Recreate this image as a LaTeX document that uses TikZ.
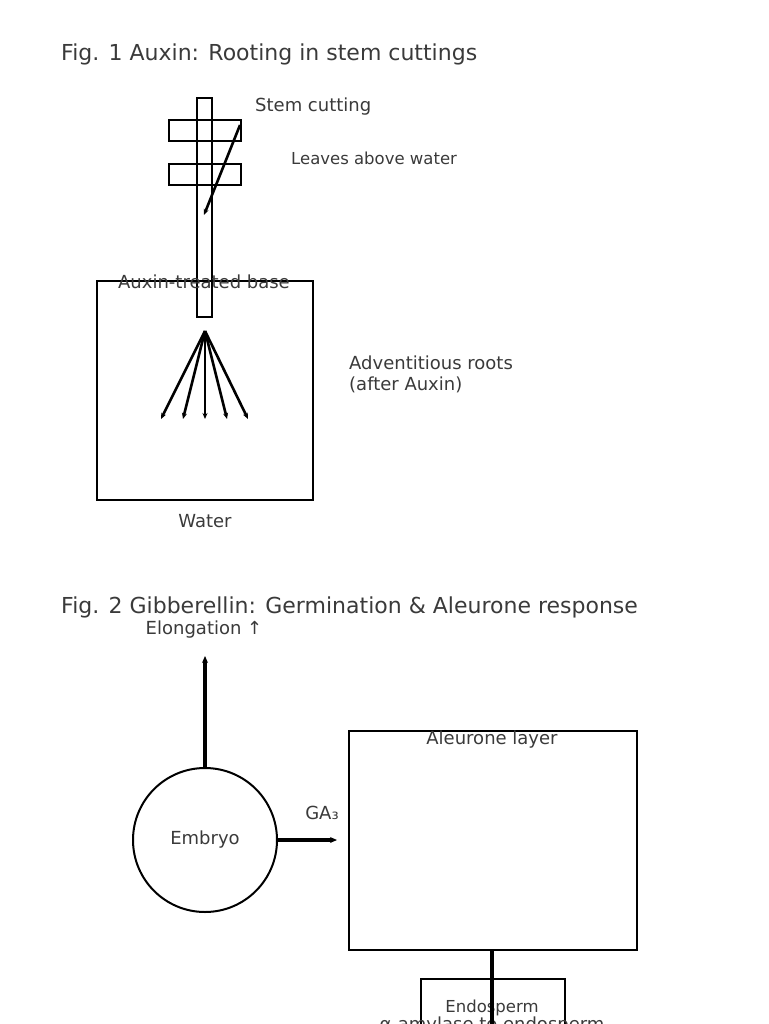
\documentclass[tikz,border=0pt]{standalone}
\usepackage{fontspec}
\setmainfont{DejaVu Sans}
\usetikzlibrary{arrows.meta}
\definecolor{txt}{HTML}{3A3A3A}
\tikzset{
  box/.style={draw=black, line width=2pt, rectangle, inner sep=0pt},
  lbl/.style={text=txt, font=\fontsize{18}{21}\selectfont, inner sep=0pt},
  small/.style={text=txt, font=\fontsize{16.5}{19}\selectfont, inner sep=0pt},
  ttl/.style={text=txt, font=\fontsize{22}{26}\selectfont, inner sep=0pt, anchor=west},
  arr/.style={draw=black, line width=3.2pt, -{Stealth[length=7pt,width=6pt]}},
  rootarr/.style={draw=black, line width=2.6pt, -{Stealth[length=6pt,width=5pt]}}
}
\begin{document}
\begin{tikzpicture}[x=1pt,y=-1pt]
\useasboundingbox (0,0) rectangle (768,1024);
\clip (0,0) rectangle (768,1024);
% Fig 1
\node[ttl] (t1) at (61,54) {Fig. 1 Auxin: Rooting in stem cuttings};
\node[box, minimum width=216pt, minimum height=219pt] (water) at (205,390.5) {};
\node[box, minimum width=15pt, minimum height=219pt] (stem) at (204.5,207.5) {};
\node[box, minimum width=72pt, minimum height=21pt] (leaf1) at (205,130.5) {};
\node[box, minimum width=72pt, minimum height=21pt] (leaf2) at (205,174.5) {};
\node[lbl, anchor=west] (stemlbl) at (255,106.5) {Stem cutting};
\node[small, anchor=west] (leaveslbl) at (291,158.5) {Leaves above water};
\coordinate (la) at (240,125);
\coordinate (lb) at (204,215);
\draw[rootarr] (la) -- (lb);
\node[lbl] (base) at (204,282) {Auxin-treated base};
\coordinate (rtop) at (205,331);
\coordinate (r1) at (161,419);
\coordinate (r2) at (183,419);
\coordinate (r3) at (205,419);
\coordinate (r4) at (227,419);
\coordinate (r5) at (248,419);
\foreach \r in {r1,r2,r3,r4,r5} \draw[rootarr] (rtop) -- (\r);
\node[lbl, anchor=west, align=left] (adv) at (349,374) {Adventitious roots\\(after Auxin)};
\node[lbl] (waterlbl) at (205,521) {Water};
% Fig 2
\node[ttl] (t2) at (61,607) {Fig. 2 Gibberellin: Germination \& Aleurone response};
\node[lbl] (elong) at (204,630) {Elongation ↑};
\node[draw=black, line width=2pt, circle, minimum size=144pt, inner sep=0pt] (embryo) at (205,840) {};
\node[lbl] (emblbl) at (205,840) {Embryo};
\coordinate (elongtip) at (205,656);
\draw[arr] (embryo.north) -- (elongtip);
\node[box, minimum width=288pt, minimum height=219pt] (aleu) at (493,840.5) {};
\node[lbl] (aleulbl) at (492,740) {Aleurone layer};
\coordinate (gatip) at (337,840);
\draw[arr] (embryo.east) -- (gatip);
\node[lbl] (ga) at (322,813) {GA₃};
\node[box, minimum width=144pt, minimum height=70pt] (endo) at (493,1014) {};
\node[small] (endolbl) at (492,1008) {Endosperm};
\node[lbl] (amyl) at (492,1026) {α-amylase to endosperm};
\coordinate (amyltip) at (492,1060);
\draw[arr] (aleu.south -| amyltip) -- (amyltip);
\end{tikzpicture}
\end{document}
